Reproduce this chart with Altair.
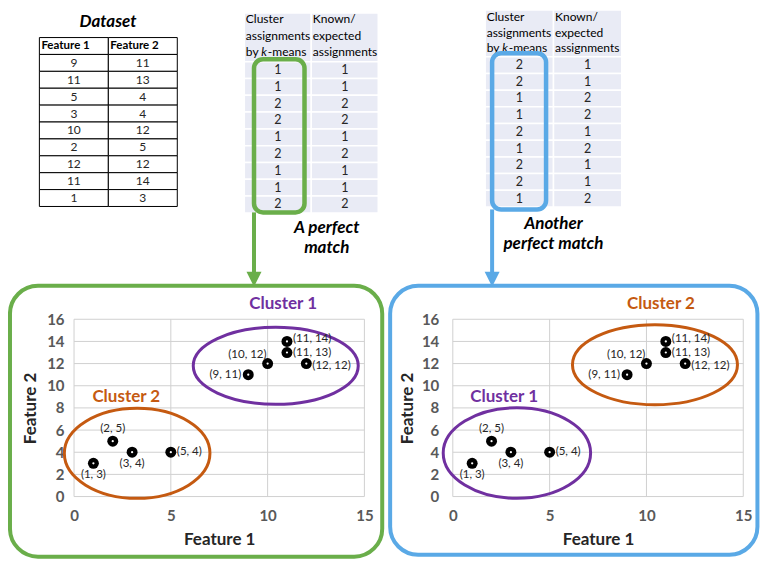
import altair as alt
import pandas as pd

# ---------------- data ----------------
feature1 = [9, 11, 5, 3, 10, 2, 12, 11, 1]
feature2 = [11, 13, 4, 4, 12, 5, 12, 14, 3]
kmeans_left = [1, 1, 2, 2, 1, 2, 1, 1, 2]
kmeans_right = [2, 2, 1, 1, 2, 1, 2, 2, 1]
known = [1, 1, 2, 2, 1, 2, 1, 1, 2]
label_side = ["left", "right", "right", "below", "above_left", "above", "right_low", "right_high", "below"]
x_ticks = [0, 5, 10, 15]
y_ticks = [0, 2, 4, 6, 8, 10, 12, 14, 16]
dataset_cols = ["Feature 1", "Feature 2"]
assign_cols = ["kmeans", "known"]
assign_header = {
    "kmeans": ["Cluster", "assignments", "by k-means"],
    "known": ["Known/", "expected", "assignments"],
}
cluster_names = ["Cluster 1", "Cluster 2"]
cluster_colors = ["#7030A0", "#C55A11"]
# cluster annotations, in data coordinates
left_names = ["Cluster 1", "Cluster 2"]
left_label_x = [10.8, 2.7]
left_label_y = [17.4, 9.0]
left_ell_x = [10.42, 3.26]
left_ell_y = [11.8, 3.9]
right_names = ["Cluster 2", "Cluster 1"]
right_label_x = [10.75, 2.65]
right_label_y = [17.4, 9.0]
right_ell_x = [10.44, 3.31]
right_ell_y = [11.9, 3.93]

# ---------------- layout helpers (reference px -> canvas px) ----------------
W, H = 752, 552
def X(r):
    return (r - 4) * 0.99
def Y(r):
    return (r - 3) * 0.985

FONT = "Lato"
TXT = "#262626"
BG = "#E9EBF5"
GREEN = "#6AAE4A"
BLUE = "#5AA9E6"
GRID = "#D0D0D0"
one = pd.DataFrame({"o": [0]})


def ellipse_path(ratio):
    k = 0.5523
    b = ratio
    return (f"M -1 0 C -1 {-k*b:.4f} {-k} {-b:.4f} 0 {-b:.4f} "
            f"C {k} {-b:.4f} 1 {-k*b:.4f} 1 0 "
            f"C 1 {k*b:.4f} {k} {b:.4f} 0 {b:.4f} "
            f"C {-k} {b:.4f} -1 {k*b:.4f} -1 0 Z")


color_enc = alt.Color("name:N", scale=alt.Scale(domain=cluster_names, range=cluster_colors), legend=None)


def panel(xr, yr, ylabpad, names, lx, ly, ex, ey, radii, ytitlepad):
    sx = alt.Scale(domain=[0, 15], range=xr, nice=False, zero=False)
    sy = alt.Scale(domain=[0, 16], range=yr, nice=False, zero=False)
    common = dict(grid=False, ticks=False, domain=False, labelFlush=False, labelFont=FONT,
                  labelFontWeight="bold", labelColor="#595959", labelFontSize=15, titleFont=FONT,
                  titleFontSize=17, titleFontWeight="bold", titleColor=TXT)
    ax = alt.Axis(orient="bottom", offset=yr[0] - H, values=x_ticks, title="Feature 1",
                  labelPadding=12, titlePadding=8, **common)
    ay = alt.Axis(orient="left", offset=-xr[0], values=y_ticks, title="Feature 2",
                  labelPadding=ylabpad, titlePadding=ytitlepad, **common)

    def xq(f):
        return alt.X(f, type="quantitative", scale=sx, axis=ax)

    def yq(f):
        return alt.Y(f, type="quantitative", scale=sy, axis=ay)

    gx = pd.DataFrame({"v": x_ticks})
    gy = pd.DataFrame({"v": y_ticks})
    vgrid = alt.Chart(gx).mark_rule(color=GRID, strokeWidth=1).encode(
        x=xq("v"),
        y=alt.Y(datum=0, type="quantitative", scale=sy, axis=ay),
        y2=alt.Y2(datum=16))
    hgrid = alt.Chart(gy).mark_rule(color=GRID, strokeWidth=1).encode(
        y=yq("v"),
        x=alt.X(datum=0, type="quantitative", scale=sx, axis=ax),
        x2=alt.X2(datum=15))

    pts = pd.DataFrame({"f1": feature1, "f2": feature2, "side": label_side})
    pts["label"] = "(" + pts["f1"].astype(str) + ", " + pts["f2"].astype(str) + ")"
    base = alt.Chart(pts)
    dots = base.mark_circle(size=120, color="black", opacity=1).encode(x=xq("f1"), y=yq("f2"))
    inner = base.mark_circle(size=5, color="white", opacity=1).encode(x=xq("f1"), y=yq("f2"))

    placements = {
        "left": dict(align="right", dx=-7, dy=0),
        "right": dict(align="left", dx=6, dy=0),
        "right_high": dict(align="left", dx=6, dy=-2),
        "right_low": dict(align="left", dx=6, dy=2),
        "below": dict(align="center", dx=0, dy=12),
        "above": dict(align="center", dx=0, dy=-12),
        "above_left": dict(align="right", dx=-1, dy=-9),
    }
    labels = []
    for side, p in placements.items():
        labels.append(
            base.transform_filter(alt.datum.side == side)
            .mark_text(font=FONT, fontSize=11.5, color=TXT, baseline="middle", **p)
            .encode(x=xq("f1"), y=yq("f2"), text="label:N"))

    ann = pd.DataFrame({"name": names, "lx": lx, "ly": ly, "ex": ex, "ey": ey})
    ells = []
    for nm in names:
        rx, ry = radii[nm]
        ells.append(
            alt.Chart(ann).transform_filter(alt.datum.name == nm)
            .mark_point(shape=ellipse_path(ry / rx), size=(2 * rx) ** 2, filled=False,
                        strokeWidth=3, opacity=1)
            .encode(x=xq("ex"), y=yq("ey"), color=color_enc))
    clabels = alt.Chart(ann).mark_text(font=FONT, fontSize=17, fontWeight="bold", baseline="middle").encode(
        x=xq("lx"), y=yq("ly"), text="name:N", color=color_enc)

    return alt.layer(vgrid, hgrid, *ells, dots, inner, *labels, clabels)


left_panel = panel([X(70.7), X(364)], [Y(499), Y(319)], 10, left_names, left_label_x, left_label_y,
                   left_ell_x, left_ell_y, {"Cluster 1": (82.5, 38.5), "Cluster 2": (72.8, 45)}, 7)
right_panel = panel([X(453.3), X(746.7)], [Y(499), Y(319)], 14, right_names, right_label_x, right_label_y,
                    right_ell_x, right_ell_y, {"Cluster 2": (82.5, 40), "Cluster 1": (73.7, 45.3)}, 5)

# ---------------- dataset table ----------------
drows = []
for c in dataset_cols:
    drows.append({"row": 0, "col": c, "text": c})
for i, (a, b) in enumerate(zip(feature1, feature2)):
    drows.append({"row": i + 1, "col": "Feature 1", "text": str(a)})
    drows.append({"row": i + 1, "col": "Feature 2", "text": str(b)})
ddf = pd.DataFrame(drows)
dsx = alt.Scale(domain=dataset_cols, range=[X(35.7), X(175)], paddingInner=0, paddingOuter=0)
dsy = alt.Scale(domain=list(range(10)), range=[Y(33), Y(204.5)], paddingInner=0, paddingOuter=0)
dbase = alt.Chart(ddf)
d_rect = dbase.mark_rect(fill="white", stroke="black", strokeWidth=1).encode(
    x=alt.X("col:N", scale=dsx, axis=None), y=alt.Y("row:O", scale=dsy, axis=None))
d_head = dbase.transform_filter(alt.datum.row == 0).mark_text(
    font=FONT, fontSize=11.5, fontWeight="bold", align="left", dx=2, color="black", baseline="middle").encode(
    x=alt.X("col:N", scale=dsx, axis=None, bandPosition=0), y=alt.Y("row:O", scale=dsy, axis=None), text="text:N")
d_body = dbase.transform_filter(alt.datum.row > 0).mark_text(
    font=FONT, fontSize=12, color=TXT, baseline="middle").encode(
    x=alt.X("col:N", scale=dsx, axis=None), y=alt.Y("row:O", scale=dsy, axis=None), text="text:N")
dataset_table = alt.layer(d_rect, d_head, d_body)


# ---------------- assignment tables ----------------
def assign_table(xr, rows_range, head_top, head_bottom, line_ys, kvals):
    trows = []
    for i in range(9):
        trows.append({"row": i + 1, "col": "kmeans", "text": str(kvals[i])})
        trows.append({"row": i + 1, "col": "known", "text": str(known[i])})
    tdf = pd.DataFrame(trows)
    hdf = pd.DataFrame([{"col": c, "line": j, "text": t}
                        for c in assign_cols for j, t in enumerate(assign_header[c])])
    sx = alt.Scale(domain=assign_cols, range=xr, paddingInner=0, paddingOuter=0)
    sy = alt.Scale(domain=list(range(1, 10)), range=rows_range, paddingInner=0, paddingOuter=0)
    xb = alt.X("col:N", scale=sx, axis=None)
    xl = alt.X("col:N", scale=sx, axis=None, bandPosition=0)
    yb = alt.Y("row:O", scale=sy, axis=None)
    hbg = alt.Chart(hdf).transform_filter(alt.datum.line == 0).mark_rect(
        fill=BG, stroke="white", strokeWidth=1.5).encode(
        x=xb, y=alt.value(head_top), y2=alt.value(head_bottom))
    body_bg = alt.Chart(tdf).mark_rect(fill=BG, stroke="white", strokeWidth=1.5).encode(x=xb, y=yb)
    body_txt = alt.Chart(tdf).mark_text(font=FONT, fontSize=12.5, color=TXT, baseline="middle").encode(
        x=xb, y=yb, text="text:N")
    layers = [hbg, body_bg, body_txt]
    hstyle = dict(font=FONT, fontSize=12, color="black", baseline="middle", align="left")
    for j in range(3):
        flt = alt.datum.line == j
        if j == 2:
            flt = (alt.datum.line == 2) & (alt.datum.col == "known")
        layers.append(alt.Chart(hdf).transform_filter(flt).mark_text(dx=1.5, **hstyle).encode(
            x=xl, y=alt.value(line_ys[j]), text="text:N"))
    kcell = alt.Chart(hdf).transform_filter((alt.datum.line == 2) & (alt.datum.col == "kmeans"))
    layers.append(kcell.mark_text(text="by", dx=1.5, **hstyle).encode(x=xl, y=alt.value(line_ys[2])))
    layers.append(kcell.mark_text(text="k", dx=17, fontStyle="italic", **hstyle).encode(x=xl, y=alt.value(line_ys[2])))
    layers.append(kcell.mark_text(text="-means", dx=23.5, **hstyle).encode(x=xl, y=alt.value(line_ys[2])))
    return alt.layer(*layers)


table_left = assign_table([X(242.7), X(378)], [Y(57.5), Y(211)], Y(8), Y(57.5),
                          [Y(14), Y(31), Y(48)], kmeans_left)
table_right = assign_table([X(486), X(624)], [Y(52.5), Y(205)], Y(5), Y(52.5),
                           [Y(12.5), Y(28.5), Y(44)], kmeans_right)

# ---------------- decorations ----------------
def box(x0, x1, y0, y1, color, radius, sw):
    return alt.Chart(one).mark_rect(fillOpacity=0, stroke=color, strokeWidth=sw, cornerRadius=radius).encode(
        x=alt.value(x0), x2=alt.value(x1), y=alt.value(y0), y2=alt.value(y1))


def arrow(xr, y0, y_tip, color):
    line = alt.Chart(one).mark_rule(color=color, strokeWidth=4).encode(
        x=alt.value(X(xr)), y=alt.value(Y(y0)), y2=alt.value(Y(y_tip) - 8))
    head = alt.Chart(one).mark_point(shape="M -1 -1 L 1 -1 L 0 1 Z", filled=True, size=225,
                                    color=color, opacity=1).encode(
        x=alt.value(X(xr)), y=alt.value(Y(y_tip) - 7.5))
    return [line, head]


def caption(text, xr, yr):
    return alt.Chart(one).mark_text(text=text, font=FONT, fontSize=17, fontWeight="bold", fontStyle="italic",
                                    color="black", baseline="middle").encode(x=alt.value(X(xr)), y=alt.value(Y(yr)))


green_border = box(X(6), X(382), Y(285), Y(560), GREEN, 28, 4)
blue_border = box(X(390), X(761), Y(285), Y(558), BLUE, 28, 4)
green_box = box(X(252.5), X(303.5), Y(55), Y(210.5), GREEN, 9, 4.5)
blue_box = box(X(493), X(547.5), Y(49), Y(207.5), BLUE, 9, 4.5)

chart = alt.layer(
    green_border, blue_border,
    dataset_table, table_left, table_right,
    green_box, blue_box,
    *arrow(252.5, 210.5, 286, GREEN),
    *arrow(493, 207.5, 286, BLUE),
    caption("Dataset", 105, 17),
    caption("A perfect", 326, 226),
    caption("match", 326, 247),
    caption("Another", 555, 222),
    caption("perfect match", 555, 243),
    left_panel, right_panel,
).resolve_scale(x="independent", y="independent").properties(
    width=W, height=H, padding=0, autosize=alt.AutoSizeParams(type="none"),
).configure_view(strokeOpacity=0)

chart.save("out.html", embed_options={"renderer": "svg", "actions": False})
